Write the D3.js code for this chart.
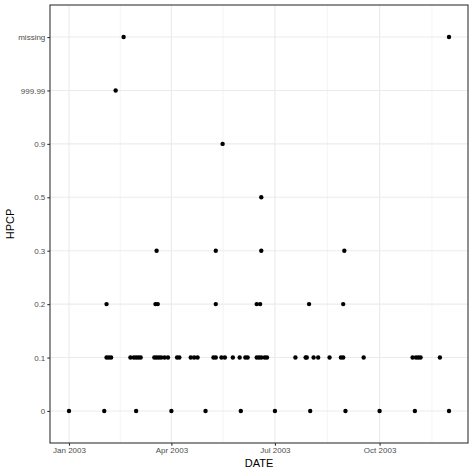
<!DOCTYPE html>
<html><head><meta charset="utf-8">
<script src="https://cdn.jsdelivr.net/npm/d3@7"></script>
<style>body{margin:0;background:#fff}svg{display:block}</style>
</head><body>
<script>
// Categories of the discrete y axis, bottom to top
const categories = ["0","0.1","0.2","0.3","0.5","0.9","999.99","missing"];
// Dates of observations for each category
const dates0 = ["2003-01-01","2003-02-01","2003-03-01","2003-04-01","2003-05-01","2003-06-01","2003-07-01","2003-08-01","2003-09-01","2003-10-01","2003-11-01","2003-12-01"];
const dates01 = ["2003-02-03","2003-02-05","2003-02-07","2003-02-24","2003-02-27","2003-03-01","2003-03-03","2003-03-05","2003-03-17","2003-03-19","2003-03-21","2003-03-23","2003-03-26","2003-03-29","2003-04-06","2003-04-08","2003-04-18","2003-04-21","2003-04-24","2003-05-08","2003-05-10","2003-05-15","2003-05-18","2003-05-25","2003-05-31","2003-06-05","2003-06-07","2003-06-15","2003-06-17","2003-06-19","2003-06-22","2003-06-24","2003-07-19","2003-07-28","2003-07-29","2003-08-04","2003-08-08","2003-08-18","2003-08-28","2003-08-30","2003-09-17","2003-10-30","2003-11-02","2003-11-04","2003-11-06","2003-11-23"];
const dates02 = ["2003-02-03","2003-03-18","2003-03-20","2003-05-10","2003-06-15","2003-06-18","2003-07-31","2003-08-30"];
const dates03 = ["2003-03-19","2003-05-10","2003-06-19","2003-08-31"];
const dates05 = ["2003-06-19"];
const dates09 = ["2003-05-16"];
const dates999 = ["2003-02-11"];
const datesMissing = ["2003-02-18","2003-12-01"];
const xTickLabels = ["Jan 2003","Apr 2003","Jul 2003","Oct 2003"];
const xTickDates = ["2003-01-01","2003-04-01","2003-07-01","2003-10-01"];
const xMinorDates = ["2003-02-15","2003-05-16T12:00","2003-08-16","2003-11-16"];

const seriesDates = [dates0,dates01,dates02,dates03,dates05,dates09,dates999,datesMissing];
const parse = s => new Date(s.length > 10 ? s + ":00Z" : s + "T00:00:00Z");
const data = [];
seriesDates.forEach((arr,i) => arr.forEach(d => data.push({date: parse(d), cat: categories[i]})));

const W = 474, H = 474;
const L = 50, R = 468, T = 5, B = 443;
const svg = d3.select("body").append("svg").attr("width",W).attr("height",H);

const ext = d3.extent(data, d => d.date);
const span = ext[1] - ext[0];
const x = d3.scaleUtc().domain([new Date(+ext[0] - 0.05*span), new Date(+ext[1] + 0.05*span)]).range([L, R]);
const y = d3.scalePoint().domain(categories).range([B, T]).padding(0.6);

// grid
const g = svg.append("g");
g.selectAll(".minx").data(xMinorDates.map(parse)).join("line")
  .attr("x1", d => x(d)).attr("x2", d => x(d)).attr("y1", T).attr("y2", B)
  .attr("stroke", "#ECECEC").attr("stroke-width", 0.6);
g.selectAll(".majx").data(xTickDates.map(parse)).join("line")
  .attr("x1", d => x(d)).attr("x2", d => x(d)).attr("y1", T).attr("y2", B)
  .attr("stroke", "#EBEBEB").attr("stroke-width", 1.1);
g.selectAll(".majy").data(categories).join("line")
  .attr("x1", L).attr("x2", R).attr("y1", d => y(d)).attr("y2", d => y(d))
  .attr("stroke", "#EBEBEB").attr("stroke-width", 1.1);

// points
svg.append("g").selectAll("circle").data(data).join("circle")
  .attr("cx", d => x(d.date)).attr("cy", d => y(d.cat)).attr("r", 2.2).attr("fill", "#000");

// border
svg.append("rect").attr("x", L).attr("y", T).attr("width", R-L).attr("height", B-T)
  .attr("fill","none").attr("stroke","#333333").attr("stroke-width",1.1);

// axes
const font = "'Liberation Sans', Arial, sans-serif";
const xAxis = d3.axisBottom(x).tickValues(xTickDates.map(parse))
  .tickFormat((d,i) => xTickLabels[i]).tickSize(2.7).tickPadding(2);
const ax = svg.append("g").attr("transform", `translate(0,${B})`).call(xAxis);
const yAxis = d3.axisLeft(y).tickSize(2.7).tickPadding(2);
const ay = svg.append("g").attr("transform", `translate(${L},0)`).call(yAxis);
[ax, ay].forEach(a => {
  a.select(".domain").remove();
  a.selectAll(".tick line").attr("stroke","#333333").attr("stroke-width",1.1);
  a.selectAll(".tick text").attr("fill","#4D4D4D").attr("font-family",font).attr("font-size",8);
});

svg.append("text").attr("x", (L+R)/2).attr("y", 466.5).attr("text-anchor","middle")
  .attr("font-family",font).attr("font-size",11).attr("fill","#000").text("DATE");
svg.append("text").attr("transform", `translate(13.5,${(T+B)/2}) rotate(-90)`).attr("text-anchor","middle")
  .attr("font-family",font).attr("font-size",11).attr("fill","#000").text("HPCP");
</script>
</body></html>
